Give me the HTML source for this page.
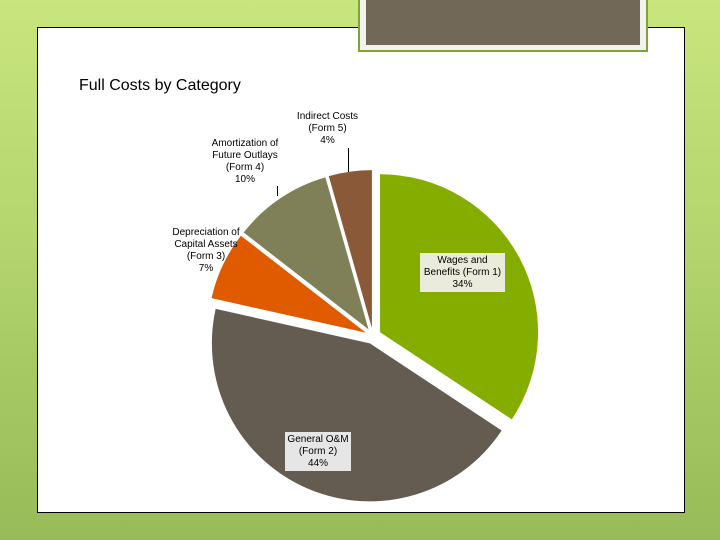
<!DOCTYPE html>
<html><head><meta charset="utf-8">
<style>
html,body{margin:0;padding:0;width:720px;height:540px;overflow:hidden}
body{background:linear-gradient(180deg,#c9e57e 0%,#b3d46e 45%,#97bb58 100%);position:relative;font-family:"Liberation Sans",sans-serif}
.panel{position:absolute;left:37px;top:27px;width:646px;height:484px;background:#fff;border:1px solid #000}
.hdr{position:absolute;left:358px;top:-4px;width:290px;height:56px;background:#f2f2ee;border:2px solid #7ea432;box-sizing:border-box}
.hdr div{position:absolute;left:6px;top:0;right:6px;bottom:5px;background:#716858}
.title{position:absolute;left:79px;top:77px;font-size:16px;color:#000}
.lbl{position:absolute;font-size:10px;line-height:12px;text-align:center;color:#000}
.box{background:#ebebdc}
</style></head><body>
<div class="panel"></div>
<div class="hdr"><div></div></div>
<div class="title">Full Costs by Category</div>
<svg id="pie" width="720" height="540" style="position:absolute;left:0;top:0"></svg>
<div class="lbl" style="left:200px;top:138px;width:90px">Amortization of<br>Future Outlays<br>(Form 4)<br>10%</div>
<div class="lbl" style="left:290px;top:111px;width:75px">Indirect Costs<br>(Form 5)<br>4%</div>
<div class="lbl" style="left:166px;top:227px;width:80px">Depreciation of<br>Capital Assets<br>(Form 3)<br>7%</div>
<div class="lbl box" style="left:420px;top:253px;width:85px;height:39px;padding-top:2px;box-sizing:border-box">Wages and<br>Benefits (Form 1)<br>34%</div>
<div class="lbl box" style="left:285px;top:432px;width:66px;height:39px;padding-top:2px;box-sizing:border-box;background:#e6e6e6">General O&amp;M<br>(Form 2)<br>44%</div>
<script>
const categories=["Wages and Benefits (Form 1)","General O&M (Form 2)","Depreciation of Capital Assets (Form 3)","Amortization of Future Outlays (Form 4)","Indirect Costs (Form 5)"];
const values=[34.3,44.2,7.0,10.1,4.4];
const colors=["#85ad00","#645c50","#e05a00","#7f8058","#8a5a38"];
const svg=document.getElementById('pie');
const NS="http://www.w3.org/2000/svg";
const cx=373,cy=336,r=158,ex=8;
const total=values.reduce((a,b)=>a+b,0);
let a0=0;
function pt(x,y,a,rr){return [x+rr*Math.sin(a),y-rr*Math.cos(a)];}
values.forEach((v,i)=>{
  const a1=a0+v/total*2*Math.PI, m=(a0+a1)/2;
  const ox=cx+ex*Math.sin(m), oy=cy-ex*Math.cos(m);
  const p0=pt(ox,oy,a0,r), p1=pt(ox,oy,a1,r);
  const large=(a1-a0)>Math.PI?1:0;
  const p=document.createElementNS(NS,'path');
  p.setAttribute('d',`M${ox},${oy}L${p0[0]},${p0[1]}A${r},${r} 0 ${large} 1 ${p1[0]},${p1[1]}Z`);
  p.setAttribute('fill',colors[i]);
  
  
  svg.appendChild(p);
  a0=a1;
});
function line(x1,y1,x2,y2,n){const l=document.createElementNS(NS,'line');l.setAttribute('x1',x1);l.setAttribute('y1',y1);l.setAttribute('x2',x2);l.setAttribute('y2',y2);l.setAttribute('stroke','#000');l.setAttribute('stroke-width','1');


svg.appendChild(l);}
line(277.5,186,277.5,196,'leader-amortization');
line(348.5,148,348.5,172,'leader-indirect');
</script>
</body></html>
